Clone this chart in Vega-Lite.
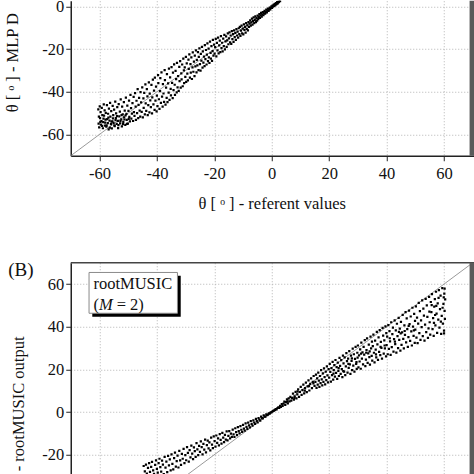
{
  "$schema": "https://vega.github.io/schema/vega-lite/v6.json",
  "background": "white",
  "padding": {"left": 3.75, "top": -2.25, "right": 0, "bottom": 0},
  "bounds": "flush",
  "spacing": 107,
  "config": {
    "font": "Liberation Serif, Times New Roman, serif",
    "view": {"stroke": null},
    "axis": {
      "labelFont": "Liberation Serif, Times New Roman, serif",
      "titleFont": "Liberation Serif, Times New Roman, serif",
      "labelFontSize": 16.5,
      "titleFontSize": 16.5,
      "titleFontWeight": "normal",
      "labelColor": "#111",
      "titleColor": "#111",
      "domainColor": "#222",
      "domainWidth": 1.5,
      "tickColor": "#222",
      "tickWidth": 1,
      "tickSize": 5,
      "gridColor": "#b4b4b4",
      "gridDash": [1, 2],
      "gridWidth": 1,
      "labelFlush": false,
      "labelOverlap": false
    }
  },
  "datasets": {
    "one": [{}],
    "diag": [{"x": -70, "y": -70}, {"x": 70, "y": 70}],
    "mlp": [
      {"x":-60.4,"y":-48.2},{"x":-60.2,"y":-51.6},{"x":-60.3,"y":-54.9},{"x":-60.1,"y":-56.7},{"x":-59.9,"y":-46.8},{"x":-59.8,"y":-52.3},{"x":-59.6,"y":-49.5},{"x":-59.5,"y":-55.4},{"x":-59.3,"y":-53.8},{"x":-59.2,"y":-47.5},{"x":-59.0,"y":-50.9},{"x":-58.8,"y":-57.1},{"x":-58.7,"y":-54.2},{"x":-58.5,"y":-45.9},{"x":-58.4,"y":-51.2},{"x":-58.2,"y":-48.7},{"x":-58.1,"y":-55.9},{"x":-57.9,"y":-53.1},
      {"x":-57.8,"y":-49.9},{"x":-57.6,"y":-56.4},{"x":-57.4,"y":-46.3},{"x":-57.3,"y":-52.8},{"x":-57.1,"y":-54.7},{"x":-57.0,"y":-50.3},{"x":-56.8,"y":-57.6},{"x":-56.7,"y":-47.9},{"x":-56.5,"y":-53.5},{"x":-56.3,"y":-45.2},{"x":-56.2,"y":-51.7},{"x":-56.0,"y":-55.2},{"x":-55.9,"y":-49.1},{"x":-55.7,"y":-57.2},{"x":-55.5,"y":-53.9},{"x":-55.4,"y":-46.6},{"x":-55.2,"y":-51.0},{"x":-55.1,"y":-54.6},
      {"x":-54.9,"y":-48.4},{"x":-54.7,"y":-56.1},{"x":-54.5,"y":-44.6},{"x":-54.3,"y":-52.4},{"x":-54.2,"y":-50.1},{"x":-54.0,"y":-55.0},{"x":-53.8,"y":-47.2},{"x":-53.6,"y":-53.6},{"x":-53.5,"y":-57.0},{"x":-53.3,"y":-45.8},{"x":-53.1,"y":-51.5},{"x":-52.9,"y":-49.3},{"x":-52.8,"y":-54.8},{"x":-52.6,"y":-43.6},{"x":-52.4,"y":-52.9},{"x":-52.2,"y":-56.2},{"x":-52.1,"y":-47.0},{"x":-51.9,"y":-50.6},
      {"x":-51.7,"y":-54.1},{"x":-51.5,"y":-44.9},{"x":-51.4,"y":-52.0},{"x":-51.2,"y":-48.8},{"x":-51.0,"y":-55.5},{"x":-50.8,"y":-42.7},{"x":-50.6,"y":-50.4},{"x":-50.5,"y":-53.2},{"x":-50.3,"y":-46.5},{"x":-50.1,"y":-54.9},{"x":-49.9,"y":-49.0},{"x":-49.7,"y":-44.1},{"x":-49.6,"y":-51.8},{"x":-49.4,"y":-53.9},{"x":-49.2,"y":-41.5},{"x":-49.0,"y":-47.7},{"x":-48.9,"y":-52.6},{"x":-48.7,"y":-50.2},
      {"x":-48.5,"y":-45.3},{"x":-48.3,"y":-53.7},{"x":-48.1,"y":-42.4},{"x":-48.0,"y":-49.5},{"x":-47.8,"y":-51.3},{"x":-47.6,"y":-40.6},{"x":-47.4,"y":-47.0},{"x":-47.3,"y":-53.2},{"x":-47.1,"y":-44.2},{"x":-46.9,"y":-50.0},{"x":-46.7,"y":-38.7},{"x":-46.5,"y":-52.4},{"x":-46.4,"y":-46.1},{"x":-46.2,"y":-42.9},{"x":-46.0,"y":-48.8},{"x":-45.8,"y":-51.7},{"x":-45.7,"y":-40.2},{"x":-45.5,"y":-45.0},
      {"x":-45.3,"y":-49.4},{"x":-45.1,"y":-37.9},{"x":-44.9,"y":-52.0},{"x":-44.7,"y":-43.1},{"x":-44.6,"y":-47.6},{"x":-44.4,"y":-40.5},{"x":-44.2,"y":-50.6},{"x":-44.0,"y":-36.5},{"x":-43.9,"y":-45.4},{"x":-43.7,"y":-48.9},{"x":-43.5,"y":-38.8},{"x":-43.3,"y":-42.2},{"x":-43.2,"y":-51.0},{"x":-43.0,"y":-46.3},{"x":-42.8,"y":-35.6},{"x":-42.6,"y":-49.7},{"x":-42.5,"y":-40.9},{"x":-42.3,"y":-44.0},
      {"x":-42.1,"y":-47.2},{"x":-41.9,"y":-36.8},{"x":-41.7,"y":-50.1},{"x":-41.6,"y":-42.6},{"x":-41.4,"y":-34.3},{"x":-41.2,"y":-45.9},{"x":-41.0,"y":-39.4},{"x":-40.8,"y":-48.5},{"x":-40.7,"y":-33.4},{"x":-40.5,"y":-44.1},{"x":-40.3,"y":-37.6},{"x":-40.1,"y":-49.2},{"x":-40.0,"y":-41.8},{"x":-39.8,"y":-46.7},{"x":-39.6,"y":-32.2},{"x":-39.5,"y":-35.9},{"x":-39.3,"y":-43.5},{"x":-39.1,"y":-48.0},
      {"x":-38.9,"y":-39.7},{"x":-38.8,"y":-33.6},{"x":-38.6,"y":-45.2},{"x":-38.4,"y":-30.9},{"x":-38.2,"y":-42.3},{"x":-38.0,"y":-47.0},{"x":-37.9,"y":-36.4},{"x":-37.7,"y":-40.8},{"x":-37.5,"y":-44.7},{"x":-37.3,"y":-29.8},{"x":-37.2,"y":-34.5},{"x":-37.0,"y":-46.0},{"x":-36.8,"y":-38.1},{"x":-36.6,"y":-42.9},{"x":-36.5,"y":-31.7},{"x":-36.3,"y":-44.9},{"x":-36.1,"y":-36.0},{"x":-35.9,"y":-40.4},
      {"x":-35.8,"y":-29.1},{"x":-35.6,"y":-43.8},{"x":-35.4,"y":-33.2},{"x":-35.2,"y":-38.6},{"x":-35.1,"y":-41.7},{"x":-34.9,"y":-28.4},{"x":-34.7,"y":-35.8},{"x":-34.5,"y":-43.0},{"x":-34.4,"y":-31.0},{"x":-34.2,"y":-39.2},{"x":-34.0,"y":-27.1},{"x":-33.8,"y":-36.7},{"x":-33.7,"y":-41.5},{"x":-33.5,"y":-30.2},{"x":-33.3,"y":-34.1},{"x":-33.1,"y":-40.3},{"x":-33.0,"y":-26.4},{"x":-32.8,"y":-37.9},
      {"x":-32.6,"y":-32.6},{"x":-32.4,"y":-39.6},{"x":-32.2,"y":-28.3},{"x":-32.1,"y":-35.0},{"x":-31.9,"y":-25.6},{"x":-31.7,"y":-38.1},{"x":-31.5,"y":-31.4},{"x":-31.4,"y":-34.2},{"x":-31.2,"y":-27.2},{"x":-31.0,"y":-37.4},{"x":-30.8,"y":-24.5},{"x":-30.6,"y":-30.0},{"x":-30.5,"y":-35.9},{"x":-30.3,"y":-28.6},{"x":-30.1,"y":-33.0},{"x":-29.9,"y":-23.6},{"x":-29.8,"y":-35.4},{"x":-29.6,"y":-26.7},
      {"x":-29.4,"y":-31.5},{"x":-29.2,"y":-34.6},{"x":-29.0,"y":-24.9},{"x":-28.9,"y":-29.3},{"x":-28.7,"y":-22.4},{"x":-28.5,"y":-33.4},{"x":-28.3,"y":-27.0},{"x":-28.2,"y":-31.0},{"x":-28.0,"y":-23.9},{"x":-27.8,"y":-34.0},{"x":-27.6,"y":-28.5},{"x":-27.5,"y":-21.5},{"x":-27.3,"y":-30.6},{"x":-27.1,"y":-25.8},{"x":-26.9,"y":-32.7},{"x":-26.8,"y":-23.0},{"x":-26.6,"y":-28.1},{"x":-26.4,"y":-20.6},
      {"x":-26.2,"y":-30.9},{"x":-26.1,"y":-25.0},{"x":-25.9,"y":-27.6},{"x":-25.7,"y":-21.4},{"x":-25.5,"y":-29.8},{"x":-25.4,"y":-23.6},{"x":-25.2,"y":-19.6},{"x":-25.0,"y":-27.0},{"x":-24.8,"y":-30.1},{"x":-24.7,"y":-22.2},{"x":-24.5,"y":-25.4},{"x":-24.3,"y":-18.9},{"x":-24.1,"y":-28.7},{"x":-24.0,"y":-21.0},{"x":-23.8,"y":-26.3},{"x":-23.6,"y":-23.5},{"x":-23.4,"y":-28.0},{"x":-23.3,"y":-18.1},
      {"x":-23.1,"y":-24.7},{"x":-22.9,"y":-20.4},{"x":-22.7,"y":-27.2},{"x":-22.6,"y":-22.6},{"x":-22.4,"y":-17.3},{"x":-22.2,"y":-25.6},{"x":-22.0,"y":-19.8},{"x":-21.9,"y":-23.9},{"x":-21.7,"y":-26.5},{"x":-21.5,"y":-16.5},{"x":-21.3,"y":-21.7},{"x":-21.2,"y":-24.4},{"x":-21.0,"y":-18.6},{"x":-20.8,"y":-25.5},{"x":-20.6,"y":-20.9},{"x":-20.5,"y":-15.6},{"x":-20.3,"y":-23.0},{"x":-20.1,"y":-17.9},
      {"x":-19.9,"y":-22.1},{"x":-19.7,"y":-19.0},{"x":-19.5,"y":-15.2},{"x":-19.3,"y":-23.4},{"x":-19.1,"y":-17.1},{"x":-18.9,"y":-20.6},{"x":-18.7,"y":-14.6},{"x":-18.5,"y":-22.0},{"x":-18.3,"y":-18.2},{"x":-18.1,"y":-16.0},{"x":-17.9,"y":-21.4},{"x":-17.7,"y":-13.9},{"x":-17.5,"y":-19.5},{"x":-17.3,"y":-17.0},{"x":-17.1,"y":-21.0},{"x":-16.9,"y":-15.1},{"x":-16.7,"y":-18.6},{"x":-16.5,"y":-13.3},{"x":-16.3,"y":-20.1},{"x":-16.1,"y":-16.4},
      {"x":-15.9,"y":-14.0},{"x":-15.7,"y":-18.9},{"x":-15.5,"y":-15.9},{"x":-15.3,"y":-12.6},{"x":-15.1,"y":-17.7},{"x":-14.9,"y":-14.9},{"x":-14.7,"y":-12.1},{"x":-14.5,"y":-16.8},{"x":-14.3,"y":-13.6},{"x":-14.1,"y":-17.5},{"x":-13.9,"y":-11.6},{"x":-13.7,"y":-15.3},{"x":-13.5,"y":-13.0},{"x":-13.3,"y":-16.6},{"x":-13.1,"y":-11.2},{"x":-12.9,"y":-14.4},{"x":-12.7,"y":-12.4},{"x":-12.5,"y":-15.7},{"x":-12.3,"y":-10.6},{"x":-12.1,"y":-13.6},
      {"x":-11.9,"y":-11.8},{"x":-11.7,"y":-14.6},{"x":-11.5,"y":-10.2},{"x":-11.3,"y":-12.9},{"x":-11.1,"y":-9.6},{"x":-10.9,"y":-13.8},{"x":-10.7,"y":-11.3},{"x":-10.5,"y":-9.0},{"x":-10.3,"y":-12.6},{"x":-10.1,"y":-10.4},{"x":-9.9,"y":-13.1},{"x":-9.7,"y":-8.4},{"x":-9.5,"y":-11.0},{"x":-9.3,"y":-9.6},{"x":-9.1,"y":-12.2},{"x":-8.9,"y":-7.8},{"x":-8.7,"y":-10.5},{"x":-8.5,"y":-8.9},{"x":-8.3,"y":-11.2},{"x":-8.1,"y":-7.3},
      {"x":-7.9,"y":-9.6},{"x":-7.7,"y":-8.0},{"x":-7.5,"y":-6.5},{"x":-7.3,"y":-9.0},{"x":-7.1,"y":-7.4},{"x":-6.9,"y":-5.7},{"x":-6.7,"y":-8.5},{"x":-6.5,"y":-6.9},{"x":-6.3,"y":-5.1},{"x":-6.1,"y":-7.8},{"x":-5.9,"y":-6.3},{"x":-5.7,"y":-4.6},{"x":-5.5,"y":-7.3},{"x":-5.3,"y":-5.5},{"x":-5.1,"y":-6.6},{"x":-4.9,"y":-4.3},
      {"x":-4.7,"y":-5.9},{"x":-4.5,"y":-4.9},{"x":-4.3,"y":-3.6},{"x":-4.1,"y":-5.3},{"x":-3.9,"y":-4.2},{"x":-3.7,"y":-3.0},{"x":-3.5,"y":-4.8},{"x":-3.3,"y":-3.8},{"x":-3.1,"y":-2.6},{"x":-2.9,"y":-4.1},{"x":-2.7,"y":-3.2},{"x":-2.5,"y":-2.1},{"x":-2.3,"y":-3.4},{"x":-2.1,"y":-2.6},{"x":-1.9,"y":-1.5},{"x":-1.7,"y":-2.8},{"x":-1.5,"y":-1.9},{"x":-1.3,"y":-1.0},{"x":-1.1,"y":-2.0},{"x":-0.9,"y":-1.3},{"x":-0.7,"y":-0.5},{"x":-0.5,"y":-1.4},{"x":-0.3,"y":-0.6},{"x":-0.1,"y":0.1},{"x":0.1,"y":-0.6},{"x":0.3,"y":0.4},{"x":0.5,"y":-0.1},{"x":0.7,"y":0.9},{"x":0.9,"y":0.3},{"x":1.1,"y":1.2},{"x":1.3,"y":0.7},{"x":1.5,"y":1.6},{"x":1.7,"y":1.1},{"x":1.9,"y":2.0},{"x":2.1,"y":1.5},{"x":2.3,"y":2.4},{"x":2.5,"y":2.0},{"x":2.7,"y":2.7},{"x":2.9,"y":2.5},
      {"x":-59.7,"y":-54.1},{"x":-59.1,"y":-56.0},{"x":-58.6,"y":-52.6},{"x":-58.0,"y":-54.5},{"x":-57.5,"y":-55.8},{"x":-56.9,"y":-52.1},{"x":-56.4,"y":-56.8},{"x":-55.8,"y":-54.0},{"x":-55.3,"y":-52.5},{"x":-54.8,"y":-55.7},{"x":-54.4,"y":-53.3},{"x":-53.9,"y":-51.4},{"x":-53.4,"y":-55.6},{"x":-52.7,"y":-53.8},{"x":-52.3,"y":-51.0},{"x":-51.8,"y":-55.2},{"x":-51.3,"y":-53.0},{"x":-50.9,"y":-51.1},{"x":-50.4,"y":-55.0},{"x":-49.8,"y":-52.7}
    ],
    "music": [
      {"x":-44.6,"y":-25.3},{"x":-44.2,"y":-27.8},{"x":-43.8,"y":-24.6},{"x":-43.5,"y":-28.9},{"x":-43.1,"y":-26.2},{"x":-42.7,"y":-24.0},{"x":-42.4,"y":-28.1},{"x":-42.0,"y":-25.7},{"x":-41.7,"y":-23.4},{"x":-41.3,"y":-27.3},{"x":-41.0,"y":-29.0},{"x":-40.6,"y":-24.8},{"x":-40.3,"y":-22.7},{"x":-40.0,"y":-26.6},{"x":-39.7,"y":-28.4},{"x":-39.4,"y":-23.9},{"x":-39.1,"y":-21.9},{"x":-38.8,"y":-25.8},{"x":-38.5,"y":-27.9},{"x":-38.2,"y":-22.8},{"x":-37.9,"y":-24.7},{"x":-37.6,"y":-29.1},{"x":-37.3,"y":-21.0},{"x":-37.0,"y":-26.1},{"x":-36.7,"y":-23.3},{"x":-36.4,"y":-28.2},{"x":-36.1,"y":-20.5},{"x":-35.8,"y":-25.0},{"x":-35.5,"y":-22.2},{"x":-35.2,"y":-27.4},
      {"x":-34.9,"y":-19.8},{"x":-34.6,"y":-24.3},{"x":-34.3,"y":-26.9},{"x":-34.0,"y":-21.6},{"x":-33.7,"y":-19.0},{"x":-33.4,"y":-25.6},{"x":-33.1,"y":-23.0},{"x":-32.8,"y":-20.4},{"x":-32.5,"y":-26.0},{"x":-32.2,"y":-18.2},{"x":-31.9,"y":-22.7},{"x":-31.6,"y":-24.8},{"x":-31.3,"y":-19.6},{"x":-31.0,"y":-21.9},{"x":-30.7,"y":-17.3},{"x":-30.4,"y":-24.0},{"x":-30.1,"y":-20.2},{"x":-29.8,"y":-22.6},{"x":-29.5,"y":-16.4},{"x":-29.2,"y":-19.1},{"x":-28.9,"y":-23.3},{"x":-28.6,"y":-17.8},{"x":-28.3,"y":-21.2},{"x":-28.0,"y":-15.7},
      {"x":-27.7,"y":-19.5},{"x":-27.4,"y":-22.1},{"x":-27.1,"y":-16.6},{"x":-26.8,"y":-18.3},{"x":-26.5,"y":-21.0},{"x":-26.2,"y":-14.6},{"x":-25.9,"y":-17.5},{"x":-25.6,"y":-20.2},{"x":-25.3,"y":-15.9},{"x":-25.0,"y":-18.7},{"x":-24.7,"y":-13.8},{"x":-24.4,"y":-16.4},{"x":-24.1,"y":-19.8},{"x":-23.8,"y":-14.9},{"x":-23.5,"y":-17.6},{"x":-23.2,"y":-12.9},{"x":-22.9,"y":-18.9},{"x":-22.6,"y":-15.5},{"x":-22.3,"y":-13.4},{"x":-22.0,"y":-17.0},{"x":-21.7,"y":-14.2},{"x":-21.4,"y":-18.0},{"x":-21.1,"y":-12.0},{"x":-20.8,"y":-15.3},{"x":-20.5,"y":-16.9},{"x":-20.2,"y":-11.4},
      {"x":-19.9,"y":-13.6},{"x":-19.6,"y":-16.2},{"x":-19.3,"y":-11.0},{"x":-19.0,"y":-14.4},{"x":-18.7,"y":-12.3},{"x":-18.4,"y":-15.6},{"x":-18.1,"y":-10.3},{"x":-17.8,"y":-13.1},{"x":-17.5,"y":-14.8},{"x":-17.2,"y":-9.8},{"x":-16.9,"y":-12.0},{"x":-16.6,"y":-14.1},{"x":-16.3,"y":-10.7},{"x":-16.0,"y":-12.9},{"x":-15.7,"y":-9.1},{"x":-15.4,"y":-13.3},{"x":-15.1,"y":-11.2},{"x":-14.8,"y":-8.9},{"x":-14.5,"y":-12.4},{"x":-14.2,"y":-10.1},{"x":-13.9,"y":-11.6},{"x":-13.6,"y":-8.2},{"x":-13.3,"y":-10.5},{"x":-13.0,"y":-11.7},{"x":-12.7,"y":-7.6},{"x":-12.4,"y":-9.4},{"x":-12.1,"y":-10.8},{"x":-11.8,"y":-7.1},{"x":-11.5,"y":-8.9},{"x":-11.2,"y":-10.0},{"x":-10.9,"y":-6.6},{"x":-10.6,"y":-8.3},{"x":-10.3,"y":-9.3},{"x":-10.0,"y":-6.0},
      {"x":-9.7,"y":-7.8},{"x":-9.4,"y":-8.7},{"x":-9.1,"y":-5.3},{"x":-8.8,"y":-6.9},{"x":-8.5,"y":-7.9},{"x":-8.2,"y":-5.0},{"x":-7.9,"y":-6.3},{"x":-7.6,"y":-7.2},{"x":-7.3,"y":-4.2},{"x":-7.0,"y":-5.6},{"x":-6.7,"y":-6.4},{"x":-6.4,"y":-3.9},{"x":-6.1,"y":-4.9},{"x":-5.8,"y":-5.6},{"x":-5.5,"y":-3.2},{"x":-5.2,"y":-4.3},{"x":-4.9,"y":-4.9},{"x":-4.6,"y":-2.8},{"x":-4.3,"y":-3.6},{"x":-4.0,"y":-4.0},{"x":-3.7,"y":-2.2},{"x":-3.4,"y":-2.9},{"x":-3.1,"y":-3.0},{"x":-2.8,"y":-1.6},{"x":-2.5,"y":-2.2},{"x":-2.2,"y":-2.1},{"x":-1.9,"y":-1.1},{"x":-1.6,"y":-1.5},{"x":-1.3,"y":-1.2},{"x":-1.0,"y":-0.6},{"x":-0.7,"y":-0.7},{"x":-0.4,"y":-0.3},{"x":-0.1,"y":0.0},
      {"x":0.2,"y":0.2},{"x":0.5,"y":0.5},{"x":0.8,"y":0.7},{"x":1.1,"y":1.0},{"x":1.4,"y":1.4},{"x":1.7,"y":1.3},{"x":2.0,"y":1.9},{"x":2.3,"y":2.2},{"x":2.6,"y":1.9},{"x":2.9,"y":2.9},{"x":3.2,"y":2.4},{"x":3.5,"y":3.7},{"x":3.8,"y":2.9},{"x":4.1,"y":3.9},{"x":4.4,"y":4.9},{"x":4.7,"y":3.4},{"x":5.0,"y":4.6},{"x":5.3,"y":5.9},{"x":5.6,"y":4.1},{"x":5.9,"y":6.4},{"x":6.2,"y":5.0},{"x":6.5,"y":7.1},{"x":6.8,"y":5.4},{"x":7.1,"y":6.5},{"x":7.4,"y":8.6},{"x":7.7,"y":5.8},{"x":8.0,"y":7.4},{"x":8.3,"y":9.5},{"x":8.6,"y":6.4},{"x":8.9,"y":8.3},{"x":9.2,"y":10.6},{"x":9.5,"y":7.1},{"x":9.8,"y":9.4},{"x":10.1,"y":11.8},{"x":10.4,"y":8.0},{"x":10.7,"y":10.3},{"x":11.0,"y":12.9},{"x":11.3,"y":8.7},{"x":11.6,"y":11.2},{"x":11.9,"y":13.8},{"x":12.2,"y":9.3},{"x":12.5,"y":12.0},{"x":12.8,"y":14.9},{"x":13.1,"y":10.1},{"x":13.4,"y":13.2},{"x":13.7,"y":15.8},{"x":14.0,"y":11.2},{"x":14.3,"y":14.1},{"x":14.6,"y":16.9},{"x":14.9,"y":12.3},{"x":5.5,"y":5.0},{"x":7.9,"y":6.6},{"x":9.0,"y":9.7},{"x":11.5,"y":10.0},{"x":13.0,"y":12.1},{"x":14.5,"y":13.4},
      {"x":15.2,"y":14.1},{"x":15.4,"y":17.6},{"x":15.6,"y":11.3},{"x":15.8,"y":15.8},{"x":16.0,"y":12.9},{"x":16.2,"y":18.5},{"x":16.4,"y":14.7},{"x":16.6,"y":11.8},{"x":16.8,"y":16.9},{"x":17.0,"y":13.6},{"x":17.2,"y":19.7},{"x":17.4,"y":15.3},{"x":17.6,"y":12.5},{"x":17.8,"y":18.1},{"x":18.0,"y":14.2},{"x":18.2,"y":20.5},{"x":18.4,"y":16.4},{"x":18.6,"y":13.0},{"x":18.8,"y":19.0},{"x":19.0,"y":15.0},{"x":19.2,"y":21.4},{"x":19.4,"y":17.2},{"x":19.6,"y":13.9},{"x":19.8,"y":20.1},
      {"x":20.0,"y":16.1},{"x":20.2,"y":22.6},{"x":20.4,"y":18.8},{"x":20.6,"y":14.3},{"x":20.8,"y":20.6},{"x":21.0,"y":17.3},{"x":21.2,"y":23.5},{"x":21.4,"y":15.2},{"x":21.6,"y":19.7},{"x":21.8,"y":22.0},{"x":22.0,"y":16.6},{"x":22.2,"y":24.4},{"x":22.4,"y":18.4},{"x":22.6,"y":21.1},{"x":22.8,"y":15.6},{"x":23.0,"y":23.2},{"x":23.2,"y":19.3},{"x":23.4,"y":16.9},{"x":23.6,"y":25.4},{"x":23.8,"y":21.6},{"x":24.0,"y":17.9},{"x":24.2,"y":24.3},{"x":24.4,"y":20.1},{"x":24.6,"y":16.4},{"x":24.8,"y":26.5},
      {"x":25.0,"y":22.8},{"x":25.2,"y":19.0},{"x":25.4,"y":25.6},{"x":25.6,"y":17.3},{"x":25.8,"y":21.4},{"x":26.0,"y":27.6},{"x":26.2,"y":23.9},{"x":26.4,"y":18.5},{"x":26.6,"y":25.0},{"x":26.8,"y":20.7},{"x":27.0,"y":28.6},{"x":27.2,"y":22.3},{"x":27.4,"y":17.9},{"x":27.6,"y":26.4},{"x":27.8,"y":24.0},{"x":28.0,"y":19.6},{"x":28.2,"y":29.7},{"x":28.4,"y":21.8},{"x":28.6,"y":27.1},{"x":28.8,"y":18.9},{"x":29.0,"y":24.9},{"x":29.2,"y":30.6},{"x":29.4,"y":22.6},{"x":29.6,"y":20.2},{"x":29.8,"y":27.8},{"x":29.9,"y":25.5},
      {"x":30.0,"y":31.2},{"x":30.2,"y":21.0},{"x":30.4,"y":26.6},{"x":30.6,"y":23.7},{"x":30.8,"y":29.4},{"x":31.0,"y":20.3},{"x":31.2,"y":32.5},{"x":31.4,"y":25.1},{"x":31.6,"y":28.0},{"x":31.8,"y":22.4},{"x":32.0,"y":30.6},{"x":32.2,"y":26.9},{"x":32.4,"y":33.7},{"x":32.6,"y":21.5},{"x":32.8,"y":24.6},{"x":33.0,"y":29.0},{"x":33.2,"y":34.5},{"x":33.4,"y":23.0},{"x":33.6,"y":27.5},{"x":33.8,"y":31.6},{"x":34.0,"y":25.7},{"x":34.2,"y":22.2},{"x":34.4,"y":35.4},{"x":34.6,"y":29.9},{"x":34.8,"y":26.3},{"x":34.9,"y":33.0},
      {"x":35.0,"y":24.1},{"x":35.2,"y":30.9},{"x":35.4,"y":36.3},{"x":35.6,"y":27.8},{"x":35.8,"y":23.3},{"x":36.0,"y":33.5},{"x":36.2,"y":29.3},{"x":36.4,"y":25.6},{"x":36.6,"y":37.6},{"x":36.8,"y":31.7},{"x":37.0,"y":24.5},{"x":37.2,"y":35.0},{"x":37.4,"y":28.2},{"x":37.6,"y":38.4},{"x":37.8,"y":26.7},{"x":38.0,"y":32.9},{"x":38.2,"y":30.1},{"x":38.4,"y":25.1},{"x":38.6,"y":39.5},{"x":38.8,"y":35.8},{"x":39.0,"y":27.4},{"x":39.2,"y":33.6},{"x":39.4,"y":29.9},{"x":39.6,"y":40.2},{"x":39.8,"y":26.1},{"x":39.9,"y":37.0},
      {"x":40.0,"y":31.4},{"x":40.2,"y":35.4},{"x":40.4,"y":27.1},{"x":40.6,"y":40.8},{"x":40.8,"y":29.6},{"x":41.0,"y":37.9},{"x":41.2,"y":33.1},{"x":41.4,"y":26.8},{"x":41.6,"y":42.1},{"x":41.8,"y":30.4},{"x":42.0,"y":36.5},{"x":42.2,"y":39.6},{"x":42.4,"y":28.3},{"x":42.6,"y":34.2},{"x":42.8,"y":43.0},{"x":43.0,"y":31.9},{"x":43.2,"y":38.3},{"x":43.4,"y":27.9},{"x":43.6,"y":41.4},{"x":43.8,"y":35.6},{"x":44.0,"y":30.0},{"x":44.2,"y":44.2},{"x":44.4,"y":33.8},{"x":44.6,"y":39.1},{"x":44.8,"y":28.8},{"x":44.9,"y":36.9},
      {"x":45.0,"y":42.3},{"x":45.2,"y":31.5},{"x":45.4,"y":37.4},{"x":45.6,"y":45.6},{"x":45.8,"y":34.3},{"x":46.0,"y":29.8},{"x":46.2,"y":40.6},{"x":46.4,"y":36.2},{"x":46.6,"y":46.8},{"x":46.8,"y":32.7},{"x":47.0,"y":43.9},{"x":47.2,"y":38.9},{"x":47.4,"y":30.6},{"x":47.6,"y":35.1},{"x":47.8,"y":47.5},{"x":48.0,"y":41.2},{"x":48.2,"y":33.4},{"x":48.4,"y":44.8},{"x":48.6,"y":37.8},{"x":48.8,"y":31.2},{"x":49.0,"y":48.9},{"x":49.2,"y":40.0},{"x":49.4,"y":35.7},{"x":49.6,"y":46.0},{"x":49.8,"y":32.4},{"x":49.9,"y":42.7},
      {"x":50.0,"y":38.6},{"x":50.2,"y":49.6},{"x":50.4,"y":34.9},{"x":50.6,"y":44.3},{"x":50.8,"y":32.3},{"x":51.0,"y":41.5},{"x":51.2,"y":51.2},{"x":51.4,"y":37.0},{"x":51.6,"y":47.3},{"x":51.8,"y":33.8},{"x":52.0,"y":43.0},{"x":52.2,"y":39.8},{"x":52.4,"y":52.4},{"x":52.6,"y":35.6},{"x":52.8,"y":48.5},{"x":53.0,"y":45.2},{"x":53.2,"y":33.5},{"x":53.4,"y":41.0},{"x":53.6,"y":53.1},{"x":53.8,"y":37.5},{"x":54.0,"y":50.0},{"x":54.2,"y":44.6},{"x":54.4,"y":34.8},{"x":54.6,"y":39.2},{"x":54.8,"y":54.0},{"x":54.9,"y":47.1},
      {"x":55.0,"y":42.1},{"x":55.2,"y":36.3},{"x":55.4,"y":51.6},{"x":55.6,"y":46.8},{"x":55.8,"y":55.3},{"x":56.0,"y":38.9},{"x":56.2,"y":44.0},{"x":56.4,"y":35.7},{"x":56.6,"y":49.4},{"x":56.8,"y":53.0},{"x":57.0,"y":40.6},{"x":57.2,"y":56.4},{"x":57.4,"y":46.2},{"x":57.6,"y":37.1},{"x":57.8,"y":51.0},{"x":58.0,"y":43.3},{"x":58.2,"y":57.2},{"x":58.4,"y":39.6},{"x":58.6,"y":48.3},{"x":58.8,"y":54.6},{"x":59.0,"y":36.6},{"x":59.2,"y":45.1},{"x":59.4,"y":58.1},{"x":59.6,"y":41.5},{"x":59.8,"y":50.7},{"x":60.0,"y":38.2},{"x":60.1,"y":55.5},{"x":60.2,"y":47.4},{"x":60.3,"y":43.7},{"x":60.4,"y":52.8},{"x":60.2,"y":57.9},{"x":60.0,"y":36.9},{"x":59.9,"y":53.8},{"x":59.5,"y":48.9},{"x":58.9,"y":42.4},{"x":58.1,"y":53.5},{"x":57.3,"y":49.8},{"x":56.5,"y":41.8},{"x":55.7,"y":50.1},{"x":56.9,"y":45.5},
      {"x":21.5,"y":18.0},{"x":23.3,"y":20.6},{"x":24.9,"y":19.2},{"x":26.7,"y":22.6},{"x":27.9,"y":25.2},{"x":29.5,"y":23.4},{"x":31.1,"y":27.4},{"x":32.9,"y":27.8},{"x":34.1,"y":28.4},{"x":36.3,"y":27.0},{"x":37.9,"y":30.6},{"x":39.3,"y":31.2},{"x":41.1,"y":34.6},{"x":42.9,"y":33.0},{"x":44.3,"y":37.6},{"x":46.3,"y":38.0},{"x":47.7,"y":40.4},{"x":49.5,"y":38.3}
    ]
  },
  "vconcat": [
    {
      "width": 404,
      "height": 155,
      "layer": [
        {
          "data": {"name": "diag"},
          "mark": {"type": "line", "color": "#9a9a9a", "strokeWidth": 1, "clip": true},
          "encoding": {
            "x": {"field": "x", "type": "quantitative"},
            "y": {"field": "y", "type": "quantitative"}
          }
        },
        {
          "data": {"name": "mlp"},
          "mark": {"type": "square", "size": 5, "color": "#000", "opacity": 1, "strokeWidth": 0, "clip": true},
          "encoding": {
            "x": {
              "field": "x", "type": "quantitative",
              "scale": {"domain": [-70, 70.7], "nice": false, "zero": false},
              "axis": {
                "values": [-60, -50, -40, -30, -20, -10, 0, 10, 20, 30, 40, 50, 60],
                "labelExpr": "datum.value % 20 === 0 ? '' + datum.value : ''",
                "labelFont": "Liberation Serif",
                "titleFont": "Liberation Serif",
                "gridOpacity": {"condition": {"test": "datum.value % 20 !== 0", "value": 0}, "value": 1},
                "labelPadding": 5,
                "title": "θ [ ᵒ ] - referent values",
                "titleX": 201,
                "titlePadding": 13
              }
            },
            "y": {
              "field": "y", "type": "quantitative",
              "scale": {"domain": [-70, 2.7], "nice": false, "zero": false},
              "axis": {
                "values": [-60, -50, -40, -30, -20, -10, 0],
                "labelExpr": "datum.value % 20 === 0 ? '' + datum.value : ''",
                "labelFont": "Liberation Serif",
                "titleFont": "Liberation Serif",
                "gridOpacity": {"condition": {"test": "datum.value % 20 !== 0", "value": 0}, "value": 1},
                "labelPadding": 2,
                "title": "θ [ ᵒ ] - MLP D",
                "titleAngle": 270,
                "titleAlign": "left",
                "titleBaseline": "middle",
                "titleX": -58,
                "titleY": 111
              }
            }
          }
        },
        {
          "data": {"name": "one"},
          "mark": {"type": "rect", "color": "#5a5a5a"},
          "encoding": {
            "x": {"datum": 68.9, "type": "quantitative"},
            "x2": {"datum": 70.7},
            "y": {"datum": 2.7, "type": "quantitative"},
            "y2": {"datum": -70}
          }
        }
      ]
    },
    {
      "width": 404,
      "height": 212,
      "layer": [
        {
          "data": {"name": "diag"},
          "mark": {"type": "line", "color": "#9a9a9a", "strokeWidth": 1, "clip": true},
          "encoding": {
            "x": {"field": "x", "type": "quantitative"},
            "y": {"field": "y", "type": "quantitative"}
          }
        },
        {
          "data": {"name": "music"},
          "mark": {"type": "square", "size": 5, "color": "#000", "opacity": 1, "strokeWidth": 0, "clip": true},
          "encoding": {
            "x": {
              "field": "x", "type": "quantitative",
              "scale": {"domain": [-70, 70.7], "nice": false, "zero": false},
              "axis": {
                "values": [-60, -40, -20, 0, 20, 40, 60],
                "labels": false,
                "ticks": false,
                "domain": false,
                "title": null
              }
            },
            "y": {
              "field": "y", "type": "quantitative",
              "scale": {"domain": [-29.4, 70], "nice": false, "zero": false},
              "axis": {
                "values": [-20, -10, 0, 10, 20, 30, 40, 50, 60],
                "labelExpr": "datum.value % 20 === 0 ? '' + datum.value : ''",
                "labelFont": "Liberation Serif",
                "titleFont": "Liberation Serif",
                "gridOpacity": {"condition": {"test": "datum.value % 20 !== 0", "value": 0}, "value": 1},
                "labelPadding": 2,
                "title": "- rootMUSIC output",
                "titleAngle": 270,
                "titleAlign": "left",
                "titleBaseline": "middle",
                "titleX": -52,
                "titleY": 208
              }
            }
          }
        },
        {
          "data": {"name": "one"},
          "mark": {"type": "rule", "color": "#444", "strokeWidth": 1.5},
          "encoding": {"y": {"datum": 70, "type": "quantitative"}}
        },
        {
          "data": {"name": "one"},
          "mark": {"type": "rect", "color": "#5a5a5a"},
          "encoding": {
            "x": {"datum": 68.9, "type": "quantitative"},
            "x2": {"datum": 70.7},
            "y": {"datum": 70, "type": "quantitative"},
            "y2": {"datum": -29.4}
          }
        },
        {
          "data": {"name": "one"},
          "mark": {"type": "rect", "color": "#000"},
          "encoding": {
            "x": {"datum": -62.5, "type": "quantitative"},
            "x2": {"datum": -31.7},
            "y": {"datum": 63.9, "type": "quantitative"},
            "y2": {"datum": 44.7}
          }
        },
        {
          "data": {"name": "one"},
          "mark": {"type": "rect", "fill": "#fff", "stroke": "#8a8a8a", "strokeWidth": 1},
          "encoding": {
            "x": {"datum": -63.63, "type": "quantitative"},
            "x2": {"datum": -32.84},
            "y": {"datum": 65.45, "type": "quantitative"},
            "y2": {"datum": 46.32}
          }
        },
        {
          "data": {"name": "one"},
          "mark": {"type": "text", "align": "left", "baseline": "middle", "fontSize": 16.5, "color": "#111"},
          "encoding": {
            "x": {"datum": -62.1, "type": "quantitative"},
            "y": {"datum": 60.15, "type": "quantitative"},
            "text": {"value": "rootMUSIC"}
          }
        },
        {
          "data": {"name": "one"},
          "mark": {"type": "text", "align": "left", "baseline": "middle", "fontSize": 16.5, "color": "#111"},
          "encoding": {
            "x": {"datum": -62.1, "type": "quantitative"},
            "y": {"datum": 50.3, "type": "quantitative"},
            "text": {"value": "("}
          }
        },
        {
          "data": {"name": "one"},
          "mark": {"type": "text", "align": "left", "baseline": "middle", "fontSize": 16.5, "fontStyle": "italic", "color": "#111"},
          "encoding": {
            "x": {"datum": -60.2, "type": "quantitative"},
            "y": {"datum": 50.3, "type": "quantitative"},
            "text": {"value": "M"}
          }
        },
        {
          "data": {"name": "one"},
          "mark": {"type": "text", "align": "left", "baseline": "middle", "fontSize": 16.5, "color": "#111"},
          "encoding": {
            "x": {"datum": -54.0, "type": "quantitative"},
            "y": {"datum": 50.3, "type": "quantitative"},
            "text": {"value": "= 2)"}
          }
        },
        {
          "data": {"name": "one"},
          "mark": {"type": "text", "align": "center", "baseline": "middle", "fontSize": 19, "color": "#111"},
          "encoding": {
            "x": {"datum": -87.4, "type": "quantitative"},
            "y": {"datum": 66.7, "type": "quantitative"},
            "text": {"value": "(B)"}
          }
        }
      ]
    }
  ]
}
